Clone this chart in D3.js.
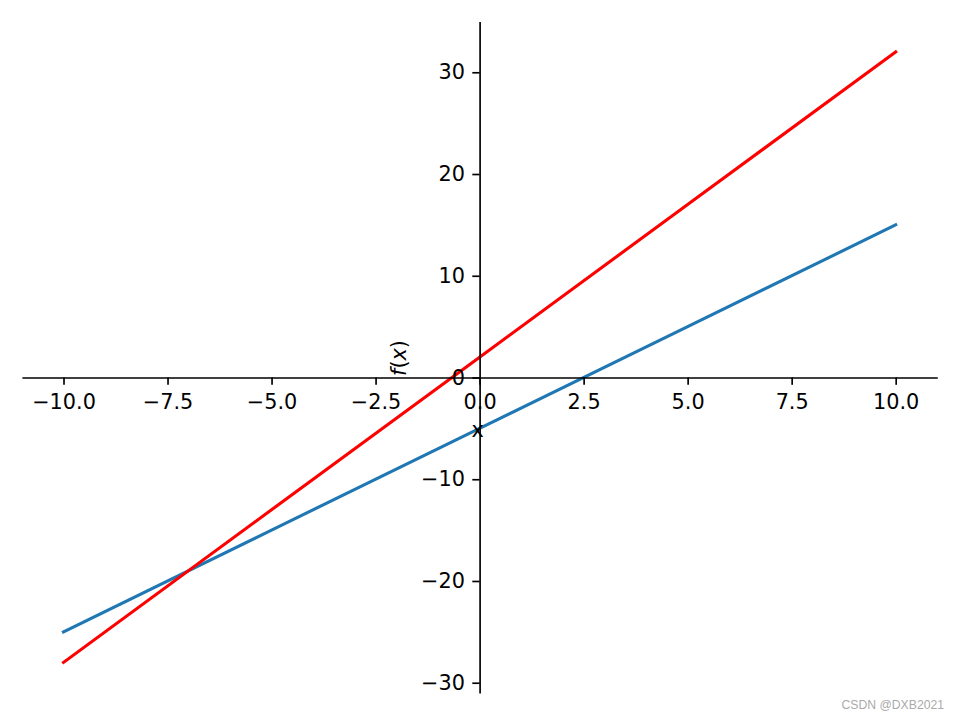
<!DOCTYPE html>
<html>
<head>
<meta charset="utf-8">
<script src="https://cdn.jsdelivr.net/npm/d3@7"></script>
<style>
  html, body { margin: 0; padding: 0; background: #fff; }
  svg { display: block; }
</style>
</head>
<body>
<svg id="chart" width="960" height="720"></svg>
<script>
// ---- data ----
const xValues = [-10, -5, 0, 5, 10];
const blueValues = [-25, -15, -5, 5, 15];
const redValues = [-28, -13, 2, 17, 32];
const xTicks = [-10, -7.5, -5, -2.5, 0, 2.5, 5, 7.5, 10];
const yTicks = [-30, -20, -10, 0, 10, 20, 30];
const xDomain = [-11, 11];
const yDomain = [-31, 35];
const xLabelText = "x";
const watermark = "CSDN @DXB2021";

// ---- layout ----
const svg = d3.select("#chart");
const font = "DejaVu Sans, sans-serif";
const fs = 20.8;
const x = d3.scaleLinear().domain(xDomain).range([21.9, 937.3]);
const y = d3.scaleLinear().domain(yDomain).range([692.9, 21.4]);

const fmtX = d => (d < 0 ? "\u2212" : "") + Math.abs(d).toFixed(1);
const fmtY = d => (d < 0 ? "\u2212" : "") + Math.abs(d);

// lines
const series = [
  { values: blueValues, color: "#1f77b4" },
  { values: redValues, color: "#ff0000" }
];
const line = d3.line().x(d => x(d[0])).y(d => y(d[1]));
series.forEach(s => {
  svg.append("path")
    .datum(xValues.map((xv, i) => [xv, s.values[i]]))
    .attr("d", line)
    .attr("fill", "none")
    .attr("stroke", s.color)
    .attr("stroke-width", 3.1)
    .attr("stroke-linecap", "square");
});

// x axis at y=0
const xAxis = d3.axisBottom(x).tickValues(xTicks).tickFormat(fmtX)
  .tickSize(7.3).tickSizeOuter(0).tickPadding(9);
const gx = svg.append("g").attr("transform", `translate(0,${y(0)})`).call(xAxis);
// y axis at x=0
const yAxis = d3.axisLeft(y).tickValues(yTicks).tickFormat(fmtY)
  .tickSize(7.3).tickSizeOuter(0).tickPadding(7.3);
const gy = svg.append("g").attr("transform", `translate(${x(0)},0)`).call(yAxis);

[gx, gy].forEach(g => {
  g.selectAll(".domain").attr("stroke", "#000").attr("stroke-width", 1.67);
  g.selectAll(".tick line").attr("stroke", "#000").attr("stroke-width", 1.67);
  g.selectAll(".tick text").attr("fill", "#000")
    .style("font-family", font).style("font-size", fs + "px");
});

// x label
svg.append("text")
  .attr("x", x(0) - 2).attr("y", 437)
  .attr("text-anchor", "middle")
  .style("font-family", font).style("font-size", fs + "px")
  .attr("fill", "#000")
  .text(xLabelText);

// y label f(x), rotated, mathtext style
const yl = svg.append("text")
  .attr("transform", `translate(406,358) rotate(-90)`)
  .attr("text-anchor", "middle")
  .style("font-family", font).style("font-size", fs + "px")
  .attr("fill", "#000");
yl.append("tspan").style("font-style", "italic").text("f");
yl.append("tspan").text("(");
yl.append("tspan").style("font-style", "italic").text("x");
yl.append("tspan").text(")");

// watermark
svg.append("text")
  .attr("x", 944).attr("y", 709.3)
  .attr("text-anchor", "end")
  .style("font-family", "Liberation Sans, Arial, sans-serif")
  .style("font-size", "12.2px")
  .attr("fill", "#aaaaaa")
  .text(watermark);
</script>
</body>
</html>
